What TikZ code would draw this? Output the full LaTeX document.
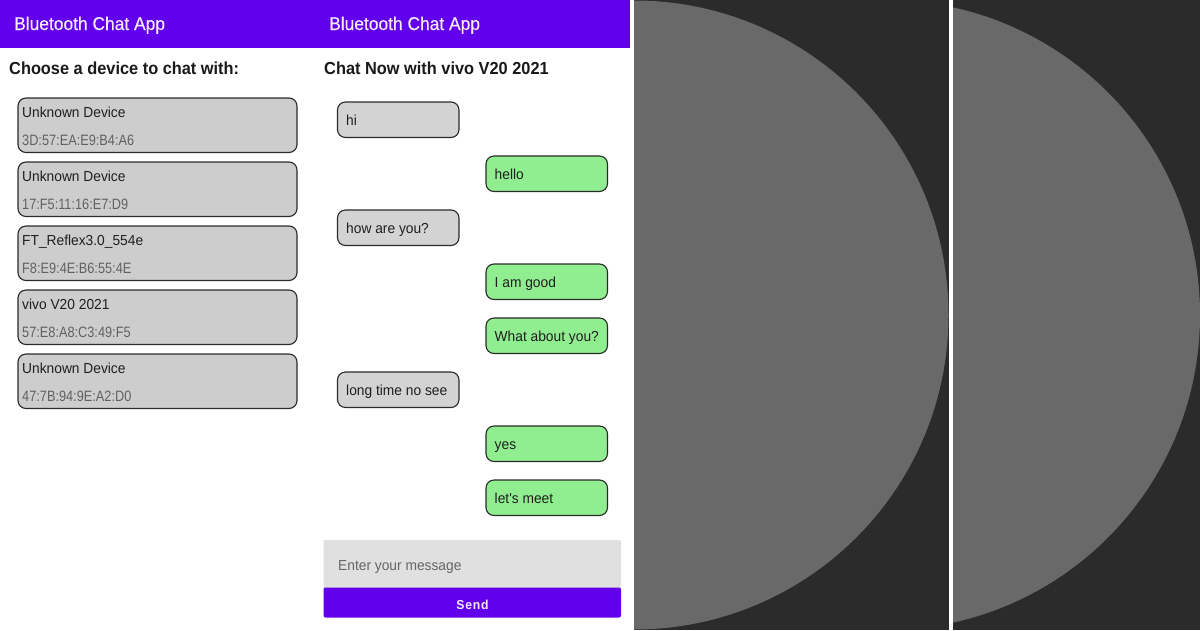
\documentclass[tikz,border=0pt]{standalone}
\usepackage{fontspec}
\setmainfont{Liberation Sans}
\newfontfamily\bodyf[FakeStretch=0.95]{Liberation Sans}
\newfontfamily\addrf[FakeStretch=0.85]{Liberation Sans}
\newfontfamily\barf[FakeStretch=0.94,FakeBold=0.25]{Liberation Sans}
\newfontfamily\headf[FakeStretch=0.94]{Liberation Sans Bold}
\newfontfamily\sendf[LetterSpace=6,FakeStretch=0.94]{Liberation Sans Bold}
\definecolor{barv}{HTML}{6200EE}
\definecolor{cardg}{HTML}{CDCDCD}
\definecolor{bubg}{HTML}{D3D3D3}
\definecolor{bubv}{HTML}{90EE90}
\definecolor{inputg}{HTML}{E0E0E0}
\definecolor{darkp}{HTML}{2B2B2B}
\definecolor{circg}{HTML}{696969}
\definecolor{edgeg}{HTML}{2A2A2A}
\tikzset{
 x=1pt,y=-1pt,
 txt/.style={inner sep=0pt,anchor=base west,font=\bodyf\fontsize{14.5}{15}\selectfont,text=black!88},
 bartxt/.style={inner sep=0pt,anchor=base west,font=\barf\fontsize{18.5}{19}\selectfont,text=white!92!violet},
 head/.style={inner sep=0pt,anchor=base west,font=\headf\fontsize{17.4}{18}\selectfont,text=black!90},
 addr/.style={inner sep=0pt,anchor=base west,font=\addrf\fontsize{15}{15}\selectfont,text=black!62},
 card/.style={draw=edgeg,line width=1.1pt,fill=cardg,rounded corners=8pt},
 left bubble/.style={draw=edgeg,line width=1.1pt,fill=bubg,rounded corners=8pt},
 right bubble/.style={draw=edgeg,line width=1.1pt,fill=bubv,rounded corners=8pt},
}
\begin{document}
\begin{tikzpicture}
\useasboundingbox (0,0) rectangle (1200,630);
\fill[white] (0,0) rectangle (1200,630);
% app bars
\fill[barv] (0,0) rectangle (630,47.5);
\node[bartxt] (t1) at (14,30) {Bluetooth Chat App};
\node[bartxt] (t2) at (329,30) {Bluetooth Chat App};
\node[head] (h1) at (9,74.5) {Choose a device to chat with:};
\node[head] (h2) at (324,74.5) {Chat Now with vivo V20 2021};
% device cards
\foreach \y/\nm/\ad in {98/Unknown Device/3D:57:EA:E9:B4:A6,
 162/Unknown Device/17:F5:11:16:E7:D9,
 226/FT\_Reflex3.0\_554e/F8:E9:4E:B6:55:4E,
 290/vivo V20 2021/57:E8:A8:C3:49:F5,
 354/Unknown Device/47:7B:94:9E:A2:D0}{
  \draw[card] (18,\y) rectangle (297,\y+54.5);
  \node[txt] at (22,\y+19) {\nm};
  \node[addr] at (22,\y+47) {\ad};
}
% bubbles received
\foreach \y/\m in {102/hi,210/how are you?,372/long time no see}{
  \draw[left bubble] (337.5,\y) rectangle (459,\y+35.5);
  \node[txt] at (346,\y+23.5) {\m};
}
% bubbles sent
\foreach \y/\m in {156/hello,264/I am good,318/What about you?,426/yes,480/let's meet}{
  \draw[right bubble] (486,\y) rectangle (607.5,\y+35.5);
  \node[txt] at (494.5,\y+23.5) {\m};
}
% input
\fill[inputg,rounded corners=2pt] (323.5,540) rectangle (621,590);
\node[txt,text=black!60] (in) at (338,570) {Enter your message};
\fill[barv,rounded corners=2pt] (323.5,587.5) rectangle (621,617.5);
\node[inner sep=0pt,anchor=base,font=\sendf\fontsize{13}{14}\selectfont,text=white!92!violet] (send) at (472.5,609.5) {Send};
% dark panels
\begin{scope}
 \clip (634,0) rectangle (949,630);
 \fill[darkp] (634,0) rectangle (949,630);
 \fill[circg] (634,315) circle[radius=314.5];
\end{scope}
\begin{scope}
 \clip (953,0) rectangle (1200,630);
 \fill[darkp] (953,0) rectangle (1200,630);
 \fill[circg] (885,315) circle[radius=315];
\end{scope}
\end{tikzpicture}
\end{document}
